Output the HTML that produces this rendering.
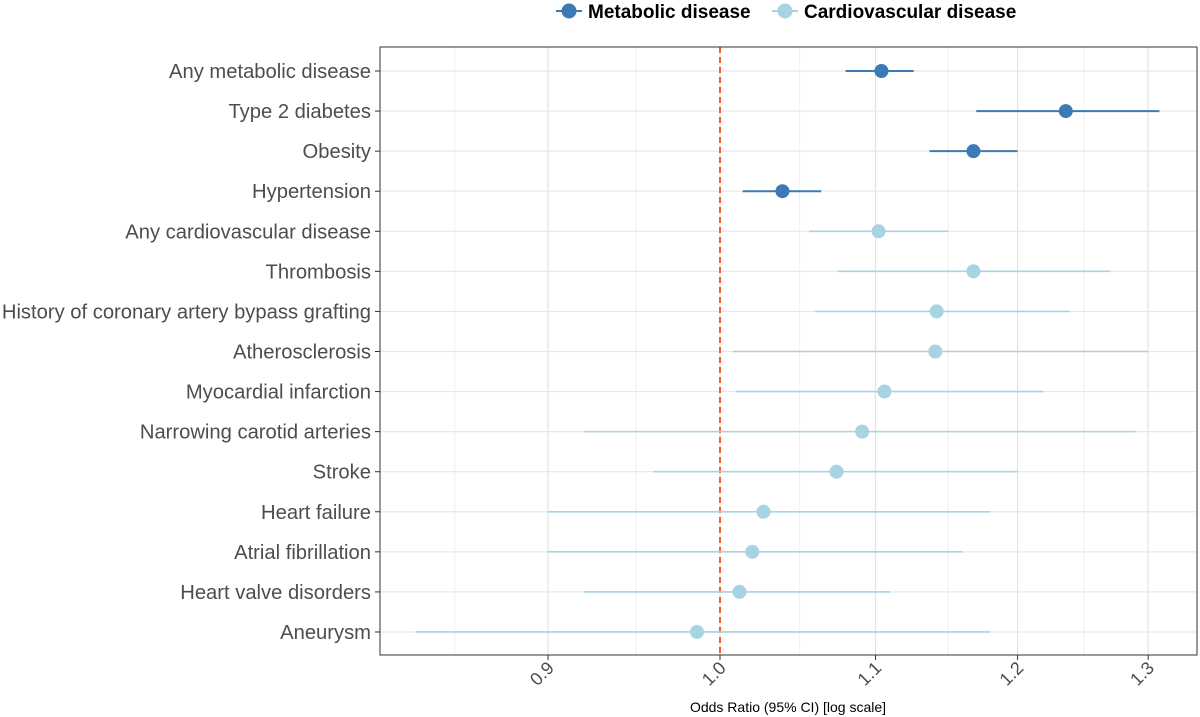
<!DOCTYPE html>
<html><head><meta charset="utf-8">
<style>
html,body{margin:0;padding:0;background:#fff;}
svg{display:block;font-family:"Liberation Sans",Arial,sans-serif;}
</style></head>
<body>
<svg id="chart" width="1200" height="717" viewBox="0 0 1200 717">
<g id="legend">
  <g>
    <line x1="556" y1="11" x2="582" y2="11" stroke="#3d7ab5" stroke-width="2"/>
    <circle cx="569" cy="11" r="7.5" fill="#3d7ab5"/>
    <text x="588" y="18" font-size="19" font-weight="bold" fill="#000">Metabolic disease</text>
  </g>
  <g>
    <line x1="772" y1="11" x2="798" y2="11" stroke="#a8d3e2" stroke-width="2"/>
    <circle cx="785" cy="11" r="7.5" fill="#a8d3e2"/>
    <text x="804" y="18" font-size="19" font-weight="bold" fill="#000">Cardiovascular disease</text>
  </g>
</g>
<g id="grid"></g>
<g id="marks"></g>
<rect x="380" y="47" width="817" height="608" fill="none" stroke="#333" stroke-width="1"/>
<g id="ylabels"></g>
<g id="xticks"></g>
<text x="788" y="712" font-size="14" text-anchor="middle" fill="#000">Odds Ratio (95% CI) [log scale]</text>
</svg>
<script>
const categories=["Any metabolic disease","Type 2 diabetes","Obesity","Hypertension","Any cardiovascular disease","Thrombosis","History of coronary artery bypass grafting","Atherosclerosis","Myocardial infarction","Narrowing carotid arteries","Stroke","Heart failure","Atrial fibrillation","Heart valve disorders","Aneurysm"];
const groups=["metabolic","metabolic","metabolic","metabolic","cvd","cvd","cvd","cvd","cvd","cvd","cvd","cvd","cvd","cvd","cvd"];
const oddsRatio=[1.104,1.236,1.168,1.039,1.102,1.168,1.142,1.141,1.106,1.091,1.074,1.027,1.020,1.012,0.986];
const ciLow=[1.080,1.170,1.137,1.014,1.056,1.075,1.060,1.008,1.010,0.920,0.960,0.900,0.900,0.920,0.830];
const ciHigh=[1.126,1.309,1.200,1.064,1.150,1.270,1.239,1.300,1.219,1.290,1.200,1.180,1.160,1.110,1.180];
const majorTicks=[0.9,1.0,1.1,1.2,1.3];
const tickLabels=["0.9","1.0","1.1","1.2","1.3"];
const minorTicks=[0.85,0.95,1.05,1.15,1.25];
const refValue=1.0;

const NS="http://www.w3.org/2000/svg";
const x=v=>720+1632*Math.log(v);
const y=i=>71+i*40.07;
function mk(tag,attrs,parent){const e=document.createElementNS(NS,tag);for(const k in attrs)e.setAttribute(k,attrs[k]);parent.appendChild(e);return e;}
const grid=document.getElementById('grid'),marks=document.getElementById('marks'),yl=document.getElementById('ylabels'),xt=document.getElementById('xticks');
minorTicks.forEach(t=>{const l=mk('line',{x1:x(t),x2:x(t),y1:47,y2:655,stroke:'#f0f0f0','stroke-width':1},grid);

});
majorTicks.forEach((t,i)=>{const l=mk('line',{x1:x(t),x2:x(t),y1:47,y2:655,stroke:'#e3e3e3','stroke-width':1.2},grid);


const tk=mk('line',{x1:x(t),x2:x(t),y1:655,y2:660,stroke:'#333'},xt);


const tx=mk('text',{x:x(t)+7,y:669,'font-size':18,fill:'#4d4d4d','text-anchor':'end',transform:`rotate(-45 ${x(t)+7} 669)`},xt);
tx.textContent=tickLabels[i];

});
categories.forEach((c,i)=>{const l=mk('line',{x1:380,x2:1197,y1:y(i),y2:y(i),stroke:'#e8e8e8','stroke-width':1.2},grid);


const tk=mk('line',{x1:375,x2:380,y1:y(i),y2:y(i),stroke:'#333'},yl);


const t=mk('text',{x:371,y:y(i)+7,'font-size':20.2,fill:'#4d4d4d','text-anchor':'end'},yl);
t.textContent=c;

});
const ref=mk('line',{x1:x(refValue),x2:x(refValue),y1:47,y2:655,stroke:'#f4511e','stroke-width':1.8,'stroke-dasharray':'6,4'},marks);


categories.forEach((c,i)=>{const col=groups[i]==='metabolic'?'#3d7ab5':'#a8d3e2';
const l=mk('line',{x1:x(ciLow[i]),x2:x(ciHigh[i]),y1:y(i),y2:y(i),stroke:col,'stroke-width':groups[i]==='metabolic'?2:1.6},marks);


const p=mk('circle',{cx:x(oddsRatio[i]),cy:y(i),r:7,fill:col},marks);

});
</script>
</body></html>
